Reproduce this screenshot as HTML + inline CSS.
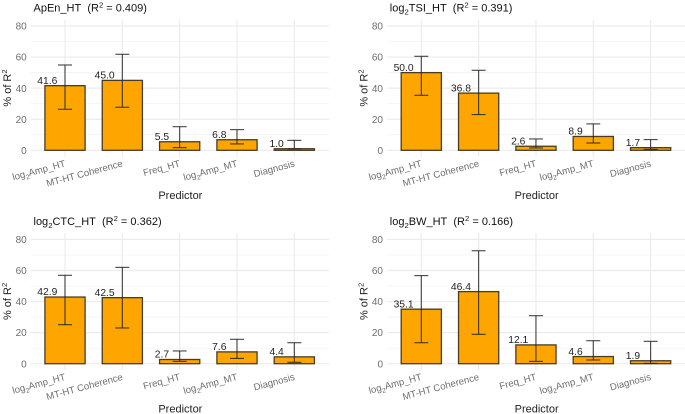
<!DOCTYPE html>
<html>
<head>
<meta charset="utf-8">
<style>
html,body{margin:0;padding:0;background:#fff;width:685px;height:414px;overflow:hidden}
svg{display:block;font-family:"Liberation Sans",sans-serif}
</style>
</head>
<body>
<svg id="chart" width="685" height="414" viewBox="0 0 685 414" xmlns="http://www.w3.org/2000/svg"></svg>
<script>
const categories = ["log2Amp_HT", "MT-HT Coherence", "Freq_HT", "log2Amp_MT", "Diagnosis"];
const yTicks = [0, 20, 40, 60, 80];
const yMinorTicks = [10, 30, 50, 70];
const panelNames = ["ApEn_HT", "log2TSI_HT", "log2CTC_HT", "log2BW_HT"];
const panelR2 = ["0.409", "0.391", "0.362", "0.166"];
const apenValues = [41.6, 45.0, 5.5, 6.8, 1.0];
const apenLow = [26.4, 27.7, 1.7, 4.1, 0.9];
const apenHigh = [54.9, 61.8, 15.2, 13.3, 6.4];
const tsiValues = [50.0, 36.8, 2.6, 8.9, 1.7];
const tsiLow = [35.4, 23.0, 1.5, 4.7, 0.6];
const tsiHigh = [60.5, 51.5, 7.3, 17.0, 6.9];
const ctcValues = [42.9, 42.5, 2.7, 7.6, 4.4];
const ctcLow = [25.1, 23.0, 1.5, 3.4, 0.9];
const ctcHigh = [56.9, 62.0, 8.2, 15.7, 13.5];
const bwValues = [35.1, 46.4, 12.1, 4.6, 1.9];
const bwLow = [13.5, 18.9, 1.5, 2.4, 0.2];
const bwHigh = [56.7, 72.7, 30.9, 14.8, 14.4];

const panelValues = [apenValues, tsiValues, ctcValues, bwValues];
const panelLow = [apenLow, tsiLow, ctcLow, bwLow];
const panelHigh = [apenHigh, tsiHigh, ctcHigh, bwHigh];

const NS = "http://www.w3.org/2000/svg";
const root = document.getElementById("chart");

function el(parent, tag, attrs, name) {
  const e = document.createElementNS(NS, tag);
  for (const k in attrs) e.setAttribute(k, attrs[k]);
  
  
  parent.appendChild(e);
  return e;
}
function addSpan(parent, txt, dy, size) {
  const s = document.createElementNS(NS, "tspan");
  if (dy) s.setAttribute("dy", dy);
  if (size) s.setAttribute("font-size", size);
  s.textContent = txt;
  parent.appendChild(s);
}
/* writes a label, turning the "log2" prefix into a subscripted 2 */
function addLabel(t, label, fs) {
  if (label.indexOf("log2") === 0) {
    addSpan(t, "log");
    addSpan(t, "2", fs * 0.28, fs * 0.7);
    addSpan(t, label.slice(4), -fs * 0.28, fs);
  } else {
    addSpan(t, label);
  }
}

function drawPanel(i) {
  const col = i % 2, row = Math.floor(i / 2);
  const ox = col === 0 ? 0 : 356.3;
  const oy = row === 0 ? 0 : 213.4;
  const left = 30.7 + ox, right = 329 + ox;
  const top = 20 + oy, bottom = 156.7 + oy;
  const y0 = 150.3 + oy, unit = (150.3 - 26) / 80;
  const band = 57.33, first = 65 + ox, barW = 40.2;
  const xScale = c => first + c * band;
  const yScale = v => y0 - v * unit;

  const g = el(root, "g", {}, "panel-" + panelNames[i].toLowerCase().replace("_", "-"));

  yMinorTicks.forEach(v => {
    el(g, "line", {x1: left, x2: right, y1: yScale(v), y2: yScale(v), stroke: "#f0f0f0", "stroke-width": 0.7}, "y-minor-gridline");
  });
  yTicks.forEach(v => {
    el(g, "line", {x1: left, x2: right, y1: yScale(v), y2: yScale(v), stroke: "#ececec", "stroke-width": 1.2}, "y-major-gridline");
    const t = el(g, "text", {x: left - 4, y: yScale(v) + 3.6, "text-anchor": "end", "font-size": 10, fill: "#6e6e6e"}, "y-tick-label");
    t.textContent = v;
  });
  categories.forEach((c, k) => {
    el(g, "line", {x1: xScale(k), x2: xScale(k), y1: top, y2: bottom, stroke: "#ececec", "stroke-width": 1.2}, "x-major-gridline");
  });

  categories.forEach((c, k) => {
    const v = panelValues[i][k];
    el(g, "rect", {x: xScale(k) - barW / 2, y: yScale(v), width: barW, height: y0 - yScale(v), fill: "#ffa500", stroke: "#473c28", "stroke-width": 1.3}, "bar-" + k);
  });
  categories.forEach((c, k) => {
    const lo = yScale(panelLow[i][k]), hi = yScale(panelHigh[i][k]);
    const x = xScale(k), cap = 7;
    const style = {stroke: "#222", "stroke-opacity": 0.85, "stroke-width": 1.1};
    el(g, "line", Object.assign({x1: x, x2: x, y1: lo, y2: hi}, style), "error-bar-stem");
    el(g, "line", Object.assign({x1: x - cap, x2: x + cap, y1: hi, y2: hi}, style), "error-bar-cap-high");
    el(g, "line", Object.assign({x1: x - cap, x2: x + cap, y1: lo, y2: lo}, style), "error-bar-cap-low");
  });
  categories.forEach((c, k) => {
    const v = panelValues[i][k];
    const t = el(g, "text", {x: xScale(k) - 17.7, y: yScale(v) - 1.8, "text-anchor": "middle", "font-size": 10.3, fill: "#222"}, "value-label");
    t.textContent = v.toFixed(1);
  });

  categories.forEach((c, k) => {
    const x = xScale(k) + 1, y = y0 + 16;
    const t = el(g, "text", {x: x, y: y, "text-anchor": "end", "font-size": 9.6, fill: "#6e6e6e", transform: "rotate(-15 " + x + " " + y + ")"}, "x-tick-label");
    addLabel(t, c, 9.6);
  });

  const xt = el(g, "text", {x: (left + right) / 2 + 0.5, y: 199 + oy, "text-anchor": "middle", "font-size": 11, fill: "#222"}, "x-axis-title");
  xt.textContent = "Predictor";

  const yx = ox + 11, yy = 88 + oy;
  const yt = el(g, "text", {x: yx, y: yy, "text-anchor": "middle", "font-size": 11, fill: "#222", transform: "rotate(-90 " + yx + " " + yy + ")"}, "y-axis-title");
  addSpan(yt, "% of R");
  addSpan(yt, "2", -4, 7.7);

  const tt = el(g, "text", {x: ox + 33.5, y: 11.5 + oy, "font-size": 11, fill: "#111"}, "panel-title");
  addLabel(tt, panelNames[i], 11);
  addSpan(tt, "\u00a0\u00a0(R");
  addSpan(tt, "2", -4, 7.7);
  addSpan(tt, " = " + panelR2[i] + ")", 4, 11);
}

panelNames.forEach((n, i) => drawPanel(i));
</script>
</body>
</html>
